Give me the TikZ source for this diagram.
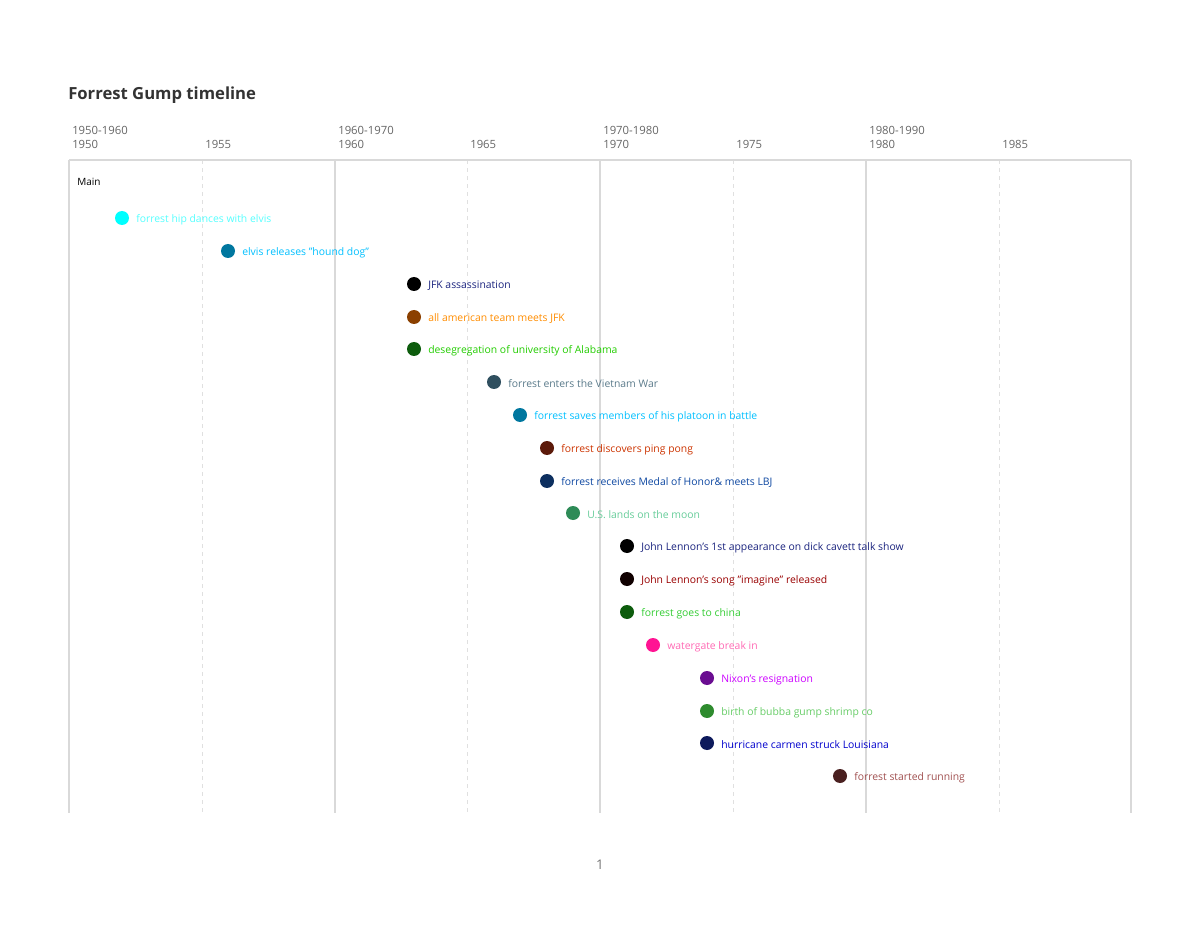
\documentclass[tikz,border=0pt]{standalone}
\usepackage{fontspec}
\setmainfont{Open Sans}
\begin{document}
\begin{tikzpicture}[x=0.75pt,y=-0.75pt,
  grid/.style={draw=black!15,line width=0.9pt},
  dgrid/.style={draw=black!12,line width=0.6pt,dashed},
  yr/.style={anchor=base west,text=black!60,font=\fontsize{8.5}{9}\selectfont,inner sep=0pt},
  ev/.style={anchor=west,font=\fontsize{7.8}{8}\selectfont,inner sep=0pt},
  dot/.style={circle,inner sep=0pt,minimum size=10.5pt}]
\useasboundingbox (0,0) rectangle (1200,927);
\node[anchor=base west,inner sep=0pt,font=\bfseries\fontsize{12.5}{13}\selectfont,text=black!80] (title) at (68,100) {Forrest Gump timeline};
\foreach \x/\t in {69/1950,335/1960,600/1970,866/1980}{
  \draw[grid] (\x,160) -- (\x,813);
  \pgfmathtruncatemacro{\u}{\t+10}
  \node[yr] at (\x+3,135) {\t-\u};
  \node[yr] at (\x+3,149) {\t};}
\foreach \x/\t in {202/1955,467/1965,733/1975,999/1985}{
  \draw[dgrid] (\x,160) -- (\x,813);
  \node[yr] at (\x+3,149) {\t};}
\draw[grid] (1131,160) -- (1131,813);
\draw[grid] (69,160) -- (1131,160);
\node[anchor=west,inner sep=0pt,font=\fontsize{7.5}{8}\selectfont] (main) at (77,182) {Main};
\foreach \i/\x/\y/\dc/\tc/\txt in {
 a/122/218/00FFFF/55FFFF/forrest hip dances with elvis,
 b/228/251/00779F/00BFFF/elvis releases "hound dog",
 c/414/284/000000/1A237E/JFK assassination,
 d/414/317/8B4000/FF8C00/all american team meets JFK,
 e/414/349/0D5C0D/22CC00/desegregation of university of Alabama,
 f/494/382/2F4F5F/5A7A8A/forrest enters the Vietnam War,
 g/520/415/00779F/00BFFF/forrest saves members of his platoon in battle,
 h/547/448/5C1A0A/CC3300/forrest discovers ping pong,
 i/547/481/0D2F5F/0D47A1/forrest receives Medal of Honor\& meets LBJ,
 j/573/513/2E8B57/66CC99/U.S. lands on the moon,
 k/627/546/000000/1A237E/John Lennon's 1st appearance on dick cavett talk show,
 l/627/579/100000/990000/John Lennon's song "imagine" released,
 m/627/612/0D5C0D/33CC33/forrest goes to china,
 n/653/645/FF1493/FF69B4/watergate break in,
 o/707/678/6A0D91/CC00FF/Nixon's resignation,
 p/707/711/2E8B2E/66CC66/birth of bubba gump shrimp co,
 q/707/743/0D1A5C/0000CC/hurricane carmen struck Louisiana,
 r/840/776/4A2020/A05050/forrest started running}{
  \definecolor{dc}{HTML}{\dc}\definecolor{tc}{HTML}{\tc}
  \node[dot,fill=dc] (d\i) at (\x,\y) {};
  \node[ev,text=tc] (t\i) at (\x+14,\y+1.5) {\txt};}
\node[text=black!55,font=\fontsize{10}{11}\selectfont] (pg) at (600,865) {1};
\end{tikzpicture}
\end{document}
